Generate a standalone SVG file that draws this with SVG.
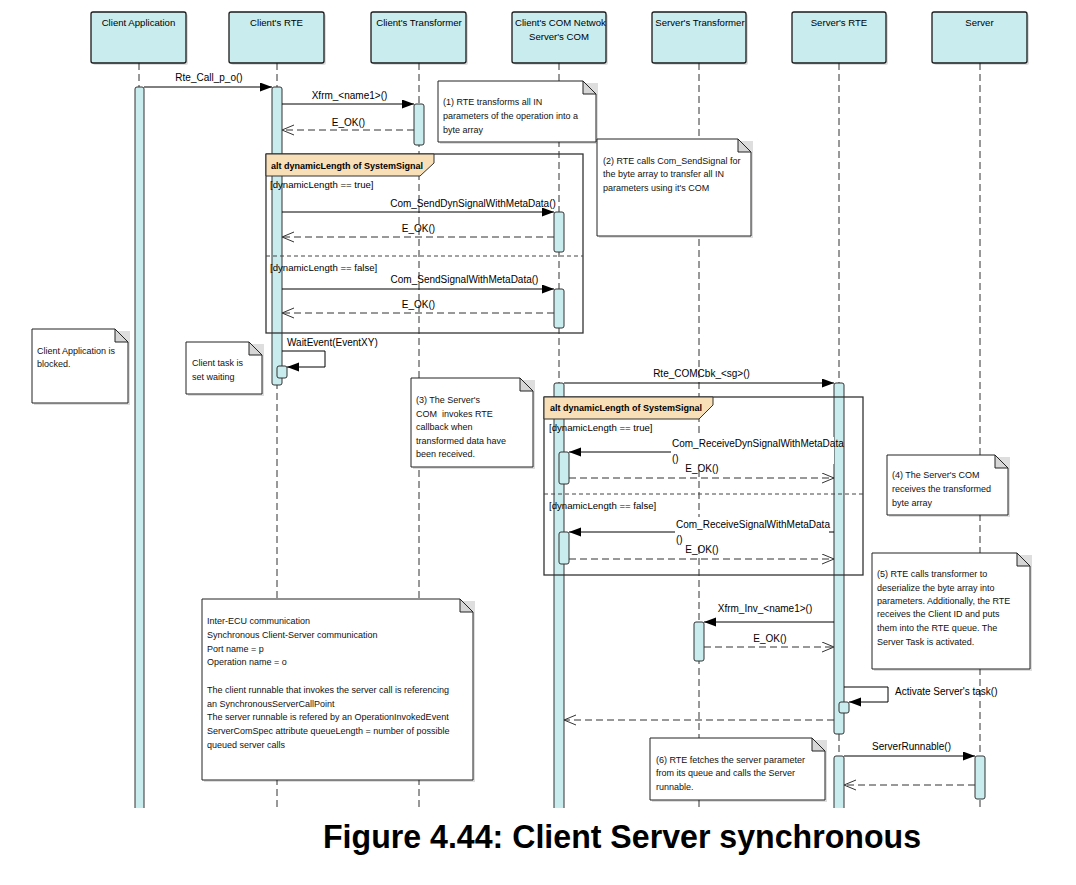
<svg xmlns="http://www.w3.org/2000/svg" width="1076" height="885" viewBox="0 0 1076 885">
<defs>
<style>
.t{font-family:"Liberation Sans",Arial,sans-serif;fill:#000}
.h{font-size:9.6px}
.l{font-size:10px}
.g{font-size:9.6px}
.n{font-size:9px;fill:#111}
.b{font-size:9px;font-weight:bold}
.hdr{fill:#c9ecee;stroke:#1a1a1a;stroke-width:1.3}
.sh{fill:#000;opacity:.13}
.life{stroke:#333;stroke-width:1;stroke-dasharray:7 4;fill:none}
.act{fill:#c9ecee;stroke:#333;stroke-width:1}
.msg{stroke:#000;stroke-width:1;fill:none}
.ret{stroke:#333;stroke-width:1;stroke-dasharray:7 4;fill:none}
.note{fill:#fff;stroke:#222;stroke-width:1}
.ear{fill:#d6d6d6;stroke:#222;stroke-width:1}
.frame{fill:none;stroke:#333;stroke-width:1.3}
.tab{fill:#f9dfb8;stroke:#333;stroke-width:1}
.sep{stroke:#444;stroke-width:1;stroke-dasharray:4 3}
</style>
<marker id="fa" markerWidth="13" markerHeight="10" refX="12" refY="4.5" orient="auto" markerUnits="userSpaceOnUse"><path d="M0,0 L12,4.5 L0,9 z" fill="#000"/></marker>
<marker id="oa" markerWidth="14" markerHeight="12" refX="12" refY="5.5" orient="auto" markerUnits="userSpaceOnUse"><path d="M0,0.5 L12,5.5 L0,10.5" fill="none" stroke="#333" stroke-width="1"/></marker>
</defs>
<rect width="1076" height="885" fill="#fff"/>

<!-- lifelines -->
<g id="lifelines">
<line class="life" x1="139" y1="63" x2="139" y2="808"/>
<line class="life" x1="277" y1="63" x2="277" y2="808"/>
<line class="life" x1="419" y1="63" x2="419" y2="808"/>
<line class="life" x1="559" y1="63" x2="559" y2="808"/>
<line class="life" x1="699" y1="63" x2="699" y2="808"/>
<line class="life" x1="839" y1="63" x2="839" y2="808"/>
<line class="life" x1="980" y1="63" x2="980" y2="808"/>
</g>

<!-- headers -->
<g id="client-application"><rect class="sh" x="93" y="14" width="95" height="51" rx="2"/><rect class="hdr" x="91" y="12" width="95" height="51" rx="2"/><text class="t h" x="138.5" y="26" text-anchor="middle">Client Application</text></g>
<g id="clients-rte"><rect class="sh" x="231" y="14" width="95" height="51" rx="2"/><rect class="hdr" x="229" y="12" width="95" height="51" rx="2"/><text class="t h" x="276.5" y="26" text-anchor="middle">Client's RTE</text></g>
<g id="clients-transformer"><rect class="sh" x="373" y="14" width="95" height="51" rx="2"/><rect class="hdr" x="371" y="12" width="95" height="51" rx="2"/><text class="t h" x="419" y="26" text-anchor="middle">Client's Transformer</text></g>
<g id="com-network"><rect class="sh" x="514" y="14" width="94" height="51" rx="2"/><rect class="hdr" x="512" y="12" width="94" height="51" rx="2"/><text class="t h" x="515" y="26">Client's COM Netwok</text><text class="t h" x="559" y="40" text-anchor="middle">Server's COM</text></g>
<g id="servers-transformer"><rect class="sh" x="654" y="14" width="94" height="51" rx="2"/><rect class="hdr" x="652" y="12" width="94" height="51" rx="2"/><text class="t h" x="700" y="26" text-anchor="middle">Server's Transformer</text></g>
<g id="servers-rte"><rect class="sh" x="794" y="14" width="94" height="51" rx="2"/><rect class="hdr" x="792" y="12" width="94" height="51" rx="2"/><text class="t h" x="839" y="26" text-anchor="middle">Server's RTE</text></g>
<g id="server"><rect class="sh" x="934" y="14" width="95" height="51" rx="2"/><rect class="hdr" x="932" y="12" width="95" height="51" rx="2"/><text class="t h" x="979.5" y="26" text-anchor="middle">Server</text></g>

<!-- activations -->
<g id="activations">
<rect class="act" x="135" y="87" width="9" height="730" rx="2"/>
<rect class="act" x="272" y="87" width="10" height="298" rx="2"/>
<rect class="act" x="414" y="104" width="10" height="41" rx="2"/>
<rect class="act" x="554" y="212" width="10" height="40" rx="2"/>
<rect class="act" x="554" y="289" width="10" height="39" rx="2"/>
<rect class="act" x="277" y="366" width="10" height="12" rx="2"/>
<rect class="act" x="554" y="383" width="10" height="434" rx="2"/>
<rect class="act" x="559" y="452" width="10" height="32" rx="2"/>
<rect class="act" x="559" y="532" width="10" height="32" rx="2"/>
<rect class="act" x="834" y="383" width="10" height="351" rx="2"/>
<rect class="act" x="694" y="622" width="10" height="39" rx="2"/>
<rect class="act" x="839" y="702" width="10" height="11" rx="2"/>
<rect class="act" x="834" y="756" width="10" height="61" rx="2"/>
<rect class="act" x="975" y="756" width="10" height="43" rx="2"/>
</g>

<!-- combined fragments -->
<g id="alt-client">
<rect class="frame" x="266" y="154" width="317" height="179"/>
<path class="tab" d="M266,154 H434 V163 L420,176 H266 Z"/>
<text class="t b" x="271" y="169">alt dynamicLength of SystemSignal</text>
<text class="t g" x="270" y="188">[dynamicLength == true]</text>
<line class="sep" x1="266" y1="256" x2="583" y2="256"/>
<text class="t g" x="270" y="271">[dynamicLength == false]</text>
</g>
<g id="alt-server">
<rect class="frame" x="544" y="397" width="319" height="178"/>
<path class="tab" d="M544,397 H713 V405 L699,419 H544 Z"/>
<text class="t b" x="550" y="411">alt dynamicLength of SystemSignal</text>
<text class="t g" x="549" y="431">[dynamicLength == true]</text>
<line class="sep" x1="544" y1="494" x2="863" y2="494"/>
<text class="t g" x="549" y="509">[dynamicLength == false]</text>
</g>

<!-- connectors -->
<g id="connectors">
<line class="msg" x1="144" y1="87" x2="272" y2="87" marker-end="url(#fa)"/>
<text class="t l" x="209" y="81" text-anchor="middle">Rte_Call_p_o()</text>
<line class="msg" x1="282" y1="104" x2="414" y2="104" marker-end="url(#fa)"/>
<text class="t l" x="349.5" y="99" text-anchor="middle">Xfrm_&lt;name1&gt;()</text>
<line class="ret" x1="414" y1="130" x2="282" y2="130" marker-end="url(#oa)"/>
<text class="t l" x="348.5" y="126" text-anchor="middle">E_OK()</text>

<line class="msg" x1="282" y1="212" x2="554" y2="212" marker-end="url(#fa)"/>
<text class="t l" x="473" y="207" text-anchor="middle">Com_SendDynSignalWithMetaData()</text>
<line class="ret" x1="554" y1="237" x2="282" y2="237" marker-end="url(#oa)"/>
<text class="t l" x="418.5" y="232" text-anchor="middle">E_OK()</text>
<line class="msg" x1="282" y1="289" x2="554" y2="289" marker-end="url(#fa)"/>
<text class="t l" x="464.5" y="283" text-anchor="middle">Com_SendSignalWithMetaData()</text>
<line class="ret" x1="554" y1="313" x2="282" y2="313" marker-end="url(#oa)"/>
<text class="t l" x="418.5" y="308" text-anchor="middle">E_OK()</text>

<path class="msg" d="M282,351 H325 V367 H287" marker-end="url(#fa)"/>
<text class="t l" x="287" y="346">WaitEvent(EventXY)</text>

<line class="msg" x1="564" y1="383" x2="834" y2="383" marker-end="url(#fa)"/>
<text class="t l" x="701.5" y="377" text-anchor="middle">Rte_COMCbk_&lt;sg&gt;()</text>

<line class="msg" x1="834" y1="452" x2="569" y2="452" marker-end="url(#fa)"/>
<rect x="671" y="437" width="163" height="27" fill="#fff"/>
<text class="t l" x="672" y="447">Com_ReceiveDynSignalWithMetaData</text>
<text class="t l" x="672" y="462">()</text>
<line class="ret" x1="569" y1="478" x2="834" y2="478" marker-end="url(#oa)"/>
<text class="t l" x="702" y="472" text-anchor="middle">E_OK()</text>

<line class="msg" x1="834" y1="532" x2="569" y2="532" marker-end="url(#fa)"/>
<rect x="675" y="517" width="154" height="27" fill="#fff"/>
<text class="t l" x="676" y="528">Com_ReceiveSignalWithMetaData</text>
<text class="t l" x="676" y="543">()</text>
<line class="ret" x1="569" y1="559" x2="834" y2="559" marker-end="url(#oa)"/>
<text class="t l" x="702" y="553" text-anchor="middle">E_OK()</text>

<line class="msg" x1="834" y1="622" x2="704" y2="622" marker-end="url(#fa)"/>
<text class="t l" x="765" y="612" text-anchor="middle">Xfrm_Inv_&lt;name1&gt;()</text>
<line class="ret" x1="704" y1="647" x2="834" y2="647" marker-end="url(#oa)"/>
<text class="t l" x="770" y="642" text-anchor="middle">E_OK()</text>

<path class="msg" d="M844,687 H888 V702 H849" marker-end="url(#fa)"/>
<text class="t l" x="895" y="695">Activate Server's task()</text>
<line class="ret" x1="834" y1="720" x2="564" y2="720" marker-end="url(#oa)"/>

<line class="msg" x1="844" y1="756" x2="975" y2="756" marker-end="url(#fa)"/>
<text class="t l" x="911.5" y="750" text-anchor="middle">ServerRunnable()</text>
<line class="ret" x1="975" y1="785" x2="844" y2="785" marker-end="url(#oa)"/>
</g>

<!-- notes -->
<g id="note-1">
<rect class="sh" x="440" y="83" width="158" height="61"/>
<path class="note" d="M438,81 H583 L596,94 V142 H438 Z"/><path class="ear" d="M583,81 V94 H596 Z"/>
<text class="t n" x="443" y="105">(1) RTE transforms all IN</text>
<text class="t n" x="443" y="119">parameters of the operation into a</text>
<text class="t n" x="443" y="133">byte array</text>
</g>
<g id="note-2">
<rect class="sh" x="599" y="141" width="154" height="97"/>
<path class="note" d="M597,139 H738 L751,152 V236 H597 Z"/><path class="ear" d="M738,139 V152 H751 Z"/>
<text class="t n" x="603" y="164">(2) RTE calls Com_SendSignal for</text>
<text class="t n" x="603" y="177">the byte array to transfer all IN</text>
<text class="t n" x="603" y="191">parameters using it's COM</text>
</g>
<g id="note-client-blocked">
<rect class="sh" x="34" y="331" width="96" height="74"/>
<path class="note" d="M32,329 H115 L128,342 V403 H32 Z"/><path class="ear" d="M115,329 V342 H128 Z"/>
<text class="t n" x="37" y="354">Client Application is</text>
<text class="t n" x="37" y="367">blocked.</text>
</g>
<g id="note-client-waiting">
<rect class="sh" x="188" y="344" width="76" height="52"/>
<path class="note" d="M186,342 H249 L262,355 V394 H186 Z"/><path class="ear" d="M249,342 V355 H262 Z"/>
<text class="t n" x="192" y="366">Client task is</text>
<text class="t n" x="192" y="380">set waiting</text>
</g>
<g id="note-3">
<rect class="sh" x="413" y="380" width="122" height="89"/>
<path class="note" d="M411,378 H520 L533,391 V467 H411 Z"/><path class="ear" d="M520,378 V391 H533 Z"/>
<text class="t n" x="416" y="403">(3) The Server's</text>
<text class="t n" x="416" y="417">COM&#160; invokes RTE</text>
<text class="t n" x="416" y="430">callback when</text>
<text class="t n" x="416" y="444">transformed data have</text>
<text class="t n" x="416" y="457">been received.</text>
</g>
<g id="note-4">
<rect class="sh" x="889" y="457" width="121" height="60"/>
<path class="note" d="M887,455 H995 L1008,468 V515 H887 Z"/><path class="ear" d="M995,455 V468 H1008 Z"/>
<text class="t n" x="892" y="478">(4) The Server's COM</text>
<text class="t n" x="892" y="492">receives the transformed</text>
<text class="t n" x="892" y="506">byte array</text>
</g>
<g id="note-5">
<rect class="sh" x="874" y="555" width="158" height="116"/>
<path class="note" d="M872,553 H1017 L1030,566 V669 H872 Z"/><path class="ear" d="M1017,553 V566 H1030 Z"/>
<text class="t n" x="877" y="577">(5) RTE calls transformer to</text>
<text class="t n" x="877" y="591">deserialize the byte array into</text>
<text class="t n" x="877" y="604">parameters. Additionally, the RTE</text>
<text class="t n" x="877" y="617">receives the Client ID and puts</text>
<text class="t n" x="877" y="631">them into the RTE queue. The</text>
<text class="t n" x="877" y="645">Server Task is activated.</text>
</g>
<g id="note-info">
<rect class="sh" x="204" y="601" width="271" height="181"/>
<path class="note" d="M202,599 H460 L473,612 V780 H202 Z"/><path class="ear" d="M460,599 V612 H473 Z"/>
<text class="t n" x="207" y="624">Inter-ECU communication</text>
<text class="t n" x="207" y="637.75">Synchronous Client-Server communication</text>
<text class="t n" x="207" y="651.5">Port name = p</text>
<text class="t n" x="207" y="665.25">Operation name = o</text>
<text class="t n" x="207" y="692.75">The client runnable that invokes the server call is referencing</text>
<text class="t n" x="207" y="706.5">an SynchronousServerCallPoint</text>
<text class="t n" x="207" y="720.25">The server runnable is refered by an OperationInvokedEvent</text>
<text class="t n" x="207" y="734">ServerComSpec attribute queueLength = number of possible</text>
<text class="t n" x="207" y="747.75">queued server calls</text>
</g>
<g id="note-6">
<rect class="sh" x="652" y="740" width="175" height="62"/>
<path class="note" d="M650,738 H812 L825,751 V800 H650 Z"/><path class="ear" d="M812,738 V751 H825 Z"/>
<text class="t n" x="656" y="763">(6) RTE fetches the server parameter</text>
<text class="t n" x="656" y="776">from its queue and calls the Server</text>
<text class="t n" x="656" y="790">runnable.</text>
</g>

<!-- crop bottom -->
<rect x="0" y="808" width="1076" height="77" fill="#fff"/>
<text class="t" x="323" y="848" font-size="34" font-weight="bold" textLength="598" lengthAdjust="spacingAndGlyphs">Figure 4.44: Client Server synchronous</text>
</svg>
